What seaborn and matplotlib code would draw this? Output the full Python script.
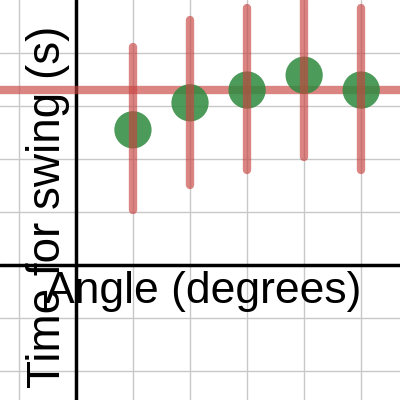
import matplotlib
matplotlib.use("Agg")
import matplotlib.pyplot as plt
import seaborn as sns
import pandas as pd
import numpy as np

# data in grid units
angle = [1, 2, 3, 4, 5]
swing_time = [2.55, 3.06, 3.3, 3.58, 3.3]
err_low = [1.04, 1.51, 1.79, 2.04, 1.79]
err_high = [4.11, 4.62, 4.85, 5.1, 4.85]
mean_time = 3.3

df = pd.DataFrame({'angle': angle, 'time': swing_time})

sns.set_style('white')
plt.rcParams['font.family'] = ['Liberation Sans', 'DejaVu Sans']

fig = plt.figure(figsize=(4, 4), dpi=100)
ax = fig.add_axes([0, 0, 1, 1])
ax.set_xlim(-1.33, 5.68)
ax.set_ylim(-2.55, 5.0)

for gx in range(-1, 6):
    ax.axvline(gx, color='#c8c8c8', lw=1, zorder=0)
for gy in range(-2, 5):
    ax.axhline(gy, color='#c8c8c8', lw=1, zorder=0)
ax.axvline(0, color='black', lw=2.5, zorder=1)
ax.axhline(0, color='black', lw=2.5, zorder=1)

red = '#c74440'
ax.axhline(mean_time, color=red, lw=6, alpha=0.65, zorder=2)
sns.scatterplot(data=df, x='angle', y='time', ax=ax, color='#2d8a3e', s=720,
                alpha=0.85, edgecolor='none', zorder=3)
ax.vlines(angle, err_low, err_high, color=red, lw=6, alpha=0.65, zorder=4,
          capstyle='round')

ax.text(2.23, -0.5, 'Angle (degrees)', fontsize=32, ha='center', va='center',
        color='black', zorder=5)
ax.text(-0.49, 1.09, 'Time for swing (s)', fontsize=33, rotation=90,
        ha='center', va='center', color='black', zorder=5)

ax.set_xlabel('')
ax.set_ylabel('')
ax.set_xticks([])
ax.set_yticks([])
for s in ax.spines.values():
    s.set_visible(False)

fig.savefig('out.png', dpi=100)
